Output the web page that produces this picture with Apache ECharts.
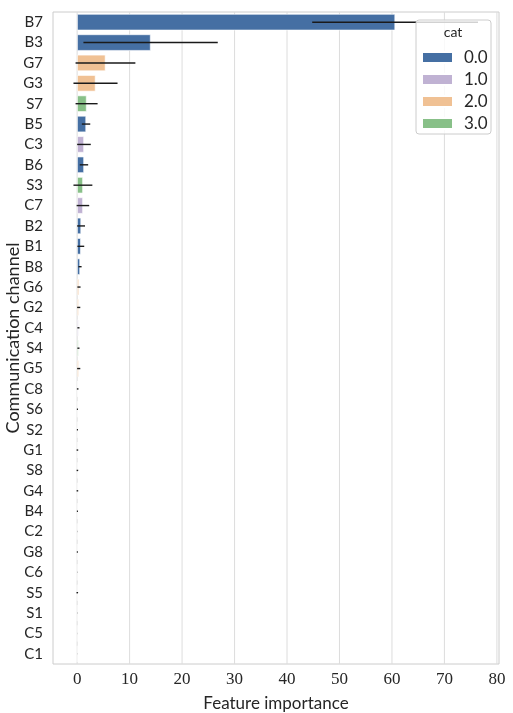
<!DOCTYPE html>
<html>
<head>
<meta charset="utf-8">
<script src="https://cdn.jsdelivr.net/npm/echarts@6/dist/echarts.min.js"></script>
<style>html,body{margin:0;padding:0;background:#fff;}#c{width:513px;height:713px;}</style>
</head>
<body>
<div id="c"></div>
<script>
const channels = ['B7','B3','G7','G3','S7','B5','C3','B6','S3','C7','B2','B1','B8','G6','G2','C4','S4','G5','C8','S6','S2','G1','S8','G4','B4','C2','G8','C6','S5','S1','C5','C1'];
const importance = [60.6,14.0,5.4,3.5,1.8,1.7,1.3,1.3,1.1,1.1,0.75,0.7,0.55,0.35,0.3,0.25,0.25,0.3,0.1,0.05,0.05,0.05,0.05,0.05,0.05,0.02,0.04,0.01,0.03,0.01,0.005,0.005];
const errors = [15.8,12.8,5.7,4.2,2.1,0.8,1.3,0.8,1.8,1.2,0.75,0.65,0.3,0.3,0.3,0.2,0.2,0.3,0.15,0.1,0.1,0.15,0.15,0.15,0.1,0.02,0.1,0.02,0.15,0.02,0.01,0.01];
const catNames = ['0.0','1.0','2.0','3.0'];
const catOfPrefix = {B:0, C:1, G:2, S:3};
const catColors = ['#456fa3','#c0b2d3','#f0c194','#88c088'];
const xTicks = [0,10,20,30,40,50,60,70,80];

const sans = 'Lato';
const barSeries = catNames.map((name, ci) => ({
  name: name,
  type: 'bar',
  stack: 'all',
  barWidth: '80%',
  z: 3,
  itemStyle: { color: catColors[ci], borderColor: '#ffffff', borderWidth: 0.6 },
  data: channels.map((ch, i) => catOfPrefix[ch[0]] === ci ? importance[i] : '-')
}));

const gridSeries = {
  type: 'custom',
  z: 1,
  silent: true,
  data: xTicks.map(v => [v, 0]),
  renderItem: function (params, api) {
    const cs = params.coordSys;
    const x = api.coord([api.value(0), 0])[0];
    return { type: 'line', shape: { x1: x, y1: cs.y, x2: x, y2: cs.y + cs.height },
      style: { stroke: '#dddddd', lineWidth: 1 } };
  }
};

const errSeries = {
  type: 'custom',
  z: 5,
  silent: true,
  data: channels.map((ch, i) => [importance[i], errors[i], i]),
  encode: { x: 0, y: 2 },
  renderItem: function (params, api) {
    const m = api.value(0), e = api.value(1), idx = api.value(2);
    const p1 = api.coord([m - e, idx]);
    const p2 = api.coord([m + e, idx]);
    return { type: 'line', shape: { x1: p1[0], y1: p1[1], x2: p2[0], y2: p2[1] },
      style: { stroke: '#1a1a1a', lineWidth: 1.4 } };
  }
};

const chart = echarts.init(document.getElementById('c'), null, { renderer: 'canvas' });
chart.setOption({
  animation: false,
  backgroundColor: '#ffffff',
  grid: { left: 53, right: 14, top: 12, bottom: 49, outerBoundsMode: 'none', containLabel: false,
    show: true, borderColor: '#cccccc', borderWidth: 1, backgroundColor: 'transparent' },
  xAxis: {
    type: 'value', min: -4.6, max: 80.4,
    axisLine: { show: false }, axisTick: { show: false }, splitLine: { show: false },
    axisLabel: { customValues: xTicks, fontFamily: 'Liberation Serif', fontSize: 17, color: '#262626', margin: 7 },
    name: 'Feature importance', nameLocation: 'middle', nameGap: 31, nameMoveOverlap: false,
    nameTextStyle: { fontFamily: sans, fontSize: 17, color: '#262626' }
  },
  yAxis: {
    type: 'category', data: channels, inverse: true,
    axisLine: { show: false }, axisTick: { show: false }, splitLine: { show: false },
    axisLabel: { fontFamily: sans, fontSize: 15, color: '#262626', margin: 10, interval: 0 },
    name: 'Communication channel', nameLocation: 'middle', nameGap: 31, nameMoveOverlap: false,
    nameTextStyle: { fontFamily: sans, fontSize: 18, color: '#262626' }
  },
  legend: {
    orient: 'vertical', left: 416, top: 44, z: 110,
    itemWidth: 31, itemHeight: 11, itemGap: 5,
    icon: 'rect',
    data: catNames,
    formatter: '{t|{name}}',
    textStyle: { fontFamily: sans, fontSize: 17, color: '#262626', lineHeight: 17,
      rich: { t: { fontFamily: sans, fontSize: 17, color: '#262626', lineHeight: 17, padding: [0, 0, 0, 6] } } }
  },
  graphic: [
    { type: 'rect', z: 100, shape: { x: 416, y: 20, width: 75, height: 114, r: 3 },
      style: { fill: 'rgba(255,255,255,0.8)', stroke: '#cccccc', lineWidth: 1 } },
    { type: 'text', z: 101, x: 453, y: 32,
      style: { text: 'cat', fontFamily: sans, fontSize: 14, fill: '#262626', align: 'center', verticalAlign: 'middle' } }
  ],
  series: [gridSeries].concat(barSeries).concat([errSeries])
});
</script>
</body>
</html>
